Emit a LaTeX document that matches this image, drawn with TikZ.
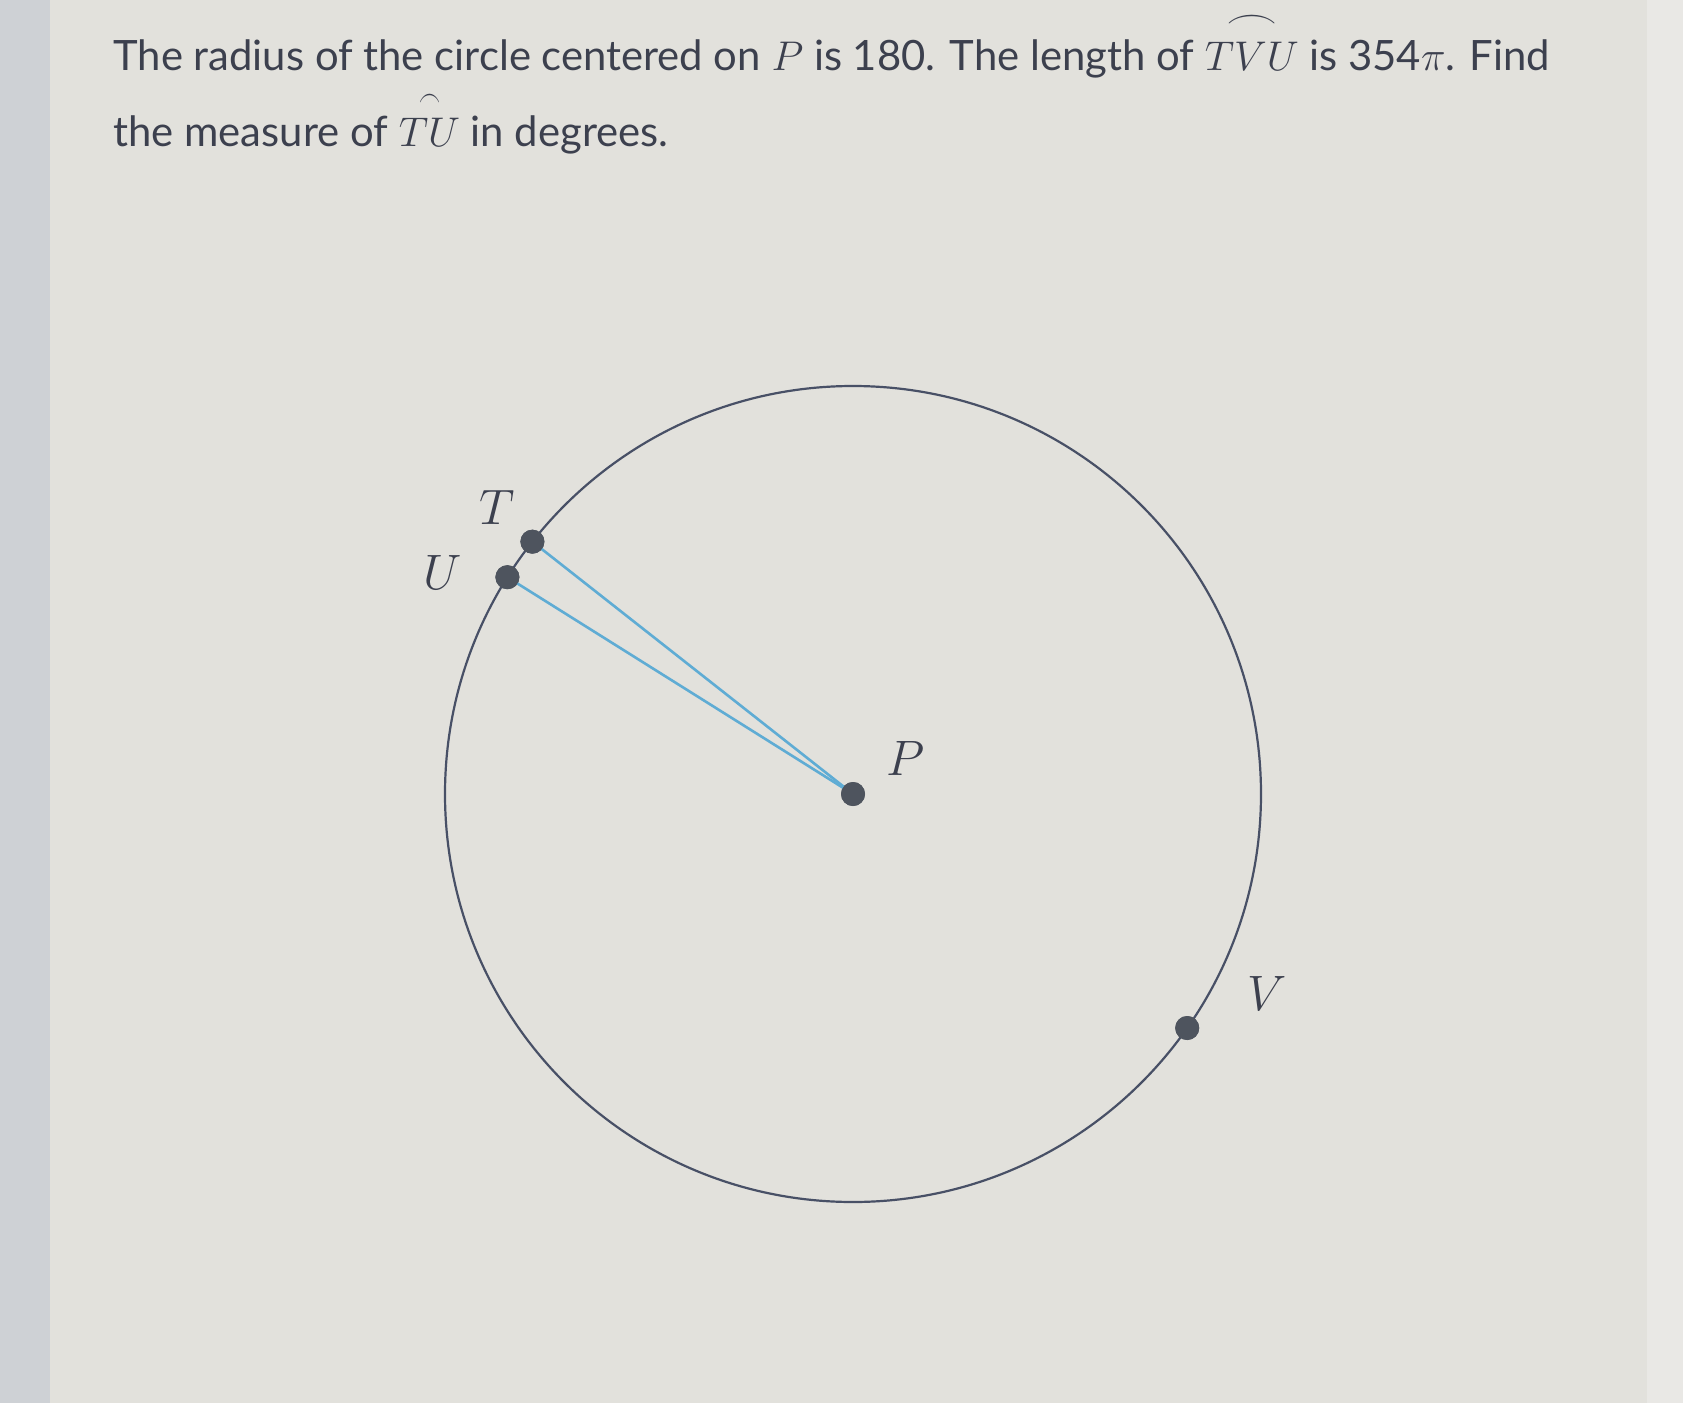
\documentclass[tikz,border=0pt]{standalone}
\usepackage{fontspec}
\setmainfont{Lato}
\usepackage{amsmath}
\usepackage{graphicx}
\newsavebox\arcbox
\newcommand\myarc[3]{\sbox\arcbox{$#1$}\overset{\raisebox{#2}{\resizebox{#3\wd\arcbox}{0.3em}{$\frown$}}}{\usebox\arcbox}}
\definecolor{bg}{RGB}{226,225,220}
\definecolor{bgleft}{RGB}{206,209,213}
\definecolor{bgright}{RGB}{233,232,229}
\definecolor{circ}{RGB}{72,80,102}
\definecolor{dotc}{RGB}{78,84,94}
\definecolor{rad}{RGB}{95,172,212}
\definecolor{txt}{RGB}{60,64,78}
\tikzset{
  dotn/.style={circle,fill=dotc,inner sep=0pt,minimum size=12pt},
  lbl/.style={text=txt,font=\fontsize{24}{28}\selectfont},
  para/.style={text=txt,font=\fontsize{20.9}{26}\selectfont,anchor=base west,inner sep=0pt}
}
\begin{document}
\begin{tikzpicture}[x=0.5pt,y=-0.5pt]
\useasboundingbox (0,0) rectangle (1683,1403);
\fill[bg] (0,0) rectangle (1683,1403);
\fill[bgleft] (0,0) rectangle (50,1403);
\fill[bgright] (1647,0) rectangle (1683,1403);
\node[para] (l1) at (113,70) {The radius of the circle centered on $P$ is 180. The length of $\myarc{TVU}{0.12em}{0.55}$ is 354$\pi$. Find};
\node[para] (l2) at (113,146) {the measure of $\myarc{TU}{0.05em}{0.35}$ in degrees.};
\coordinate (c) at (853,794);
\draw[circ,line width=1.1pt] (c) circle[radius=408];
\node[dotn] (P) at (853,794) {};
\node[dotn] (T) at (532.4,541.7) {};
\node[dotn] (U) at (507.4,577.2) {};
\node[dotn] (V) at (1187.2,1028) {};
\draw[rad,line width=1.3pt] (P.center) -- (T.center);
\draw[rad,line width=1.3pt] (P.center) -- (U.center);
\foreach \n in {P,T,U,V} \fill[dotc] (\n) circle[radius=12];
\node[lbl] (tT) at (497,507) {$T$};
\node[lbl] (tU) at (443,572) {$U$};
\node[lbl] (tP) at (906,758) {$P$};
\node[lbl] (tV) at (1267,993) {$V$};
\end{tikzpicture}
\end{document}
